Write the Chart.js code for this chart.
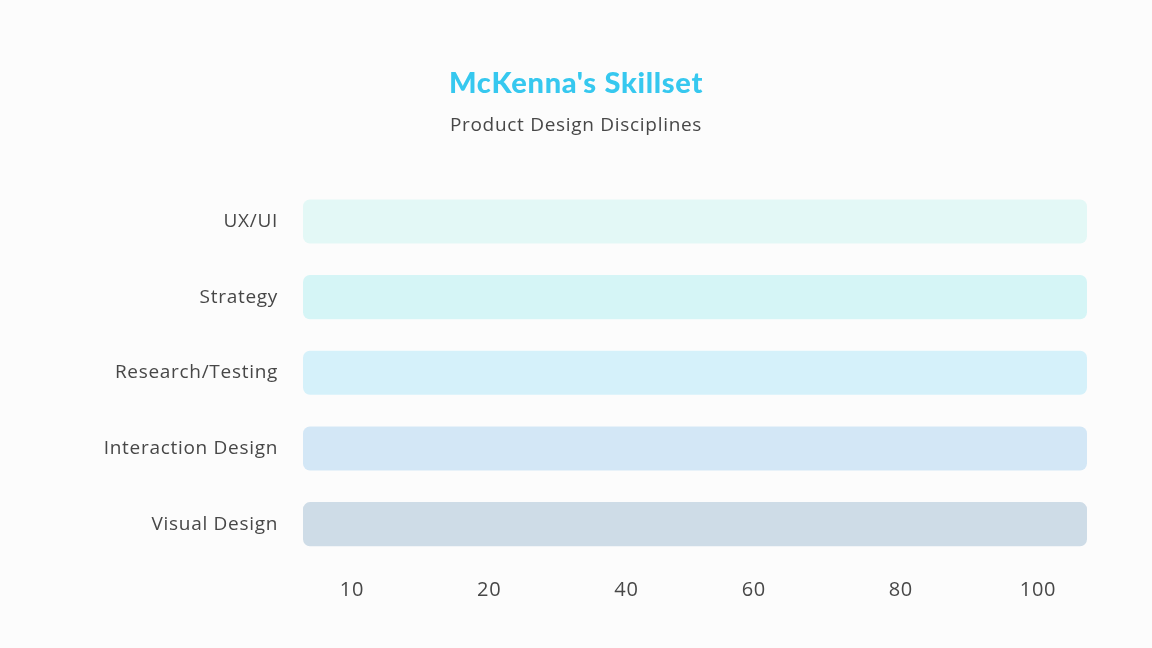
<!DOCTYPE html>
<html>
<head>
<meta charset="utf-8">
<script src="https://cdn.jsdelivr.net/npm/chart.js@4.4.1/dist/chart.umd.min.js"></script>
<style>
  html, body { margin: 0; padding: 0; background: #fcfcfc; }
  #wrap { width: 1152px; height: 648px; }
</style>
</head>
<body>
<div id="wrap"><canvas id="chart"></canvas></div>
<script>
// skill rows, top to bottom
var skills = ['UX/UI', 'Strategy', 'Research/Testing', 'Interaction Design', 'Visual Design'];
var levels = [100, 100, 100, 100, 100];
var barColors = ['#e3f8f6', '#d5f5f6', '#d5f1fa', '#d3e7f6', '#cedce7'];
// x-axis tick labels as printed on the graphic
var tickLabels = ['10', '20', '40', '60', '80', '100'];

var labelFont = "'Open Sans', sans-serif";

// the graphic uses loosely tracked type; canvas letterSpacing gets close
var tracking = {
  id: 'tracking',
  beforeDraw: function (chart) { chart.ctx.letterSpacing = '0.7px'; }
};

new Chart(document.getElementById('chart').getContext('2d'), {
  type: 'bar',
  data: {
    labels: skills,
    datasets: [{
      data: levels,
      backgroundColor: barColors,
      borderRadius: 7,
      borderSkipped: false,
      barPercentage: 0.583,
      categoryPercentage: 1
    }]
  },
  plugins: [tracking],
  options: {
    indexAxis: 'y',
    responsive: true,
    maintainAspectRatio: false,
    animation: false,
    layout: { padding: { left: 0, right: 0, top: 0, bottom: 30 } },
    plugins: {
      legend: { display: false },
      tooltip: { enabled: false },
      title: {
        display: true,
        text: "McKenna's Skillset",
        color: '#36c8ef',
        font: { family: 'Lato', size: 29, weight: '900' },
        padding: { top: 66, bottom: 13 }
      },
      subtitle: {
        display: true,
        text: 'Product Design Disciplines',
        color: '#474747',
        font: { family: labelFont, size: 19 },
        padding: { top: 0, bottom: 47 }
      }
    },
    scales: {
      x: {
        min: 0, max: 100,
        grid: { display: false, drawTicks: false },
        border: { display: false },
        afterBuildTicks: function (axis) {
          // where the graphic places its six labels along the bar track
          var spots = [6.25, 23.75, 41.25, 57.5, 76.25, 93.75];
          axis.ticks = spots.map(function (s) { return { value: s }; });
        },
        ticks: {
          color: '#474747',
          padding: 16,
          maxRotation: 0,
          autoSkip: false,
          font: { family: labelFont, size: 20 },
          callback: function (v, i) { return tickLabels[i]; }
        }
      },
      y: {
        grid: { display: false, drawTicks: false },
        border: { display: false },
        afterFit: function (axis) { axis.width = 303; },
        ticks: {
          color: '#474747',
          padding: 25,
          font: { family: labelFont, size: 19 }
        }
      },
      // empty right gutter so the titles stay centred on the page
      yRight: {
        position: 'right',
        grid: { display: false, drawTicks: false },
        border: { display: false },
        ticks: { display: false },
        afterFit: function (axis) { axis.width = 65; }
      }
    }
  }
});
</script>
</body>
</html>
